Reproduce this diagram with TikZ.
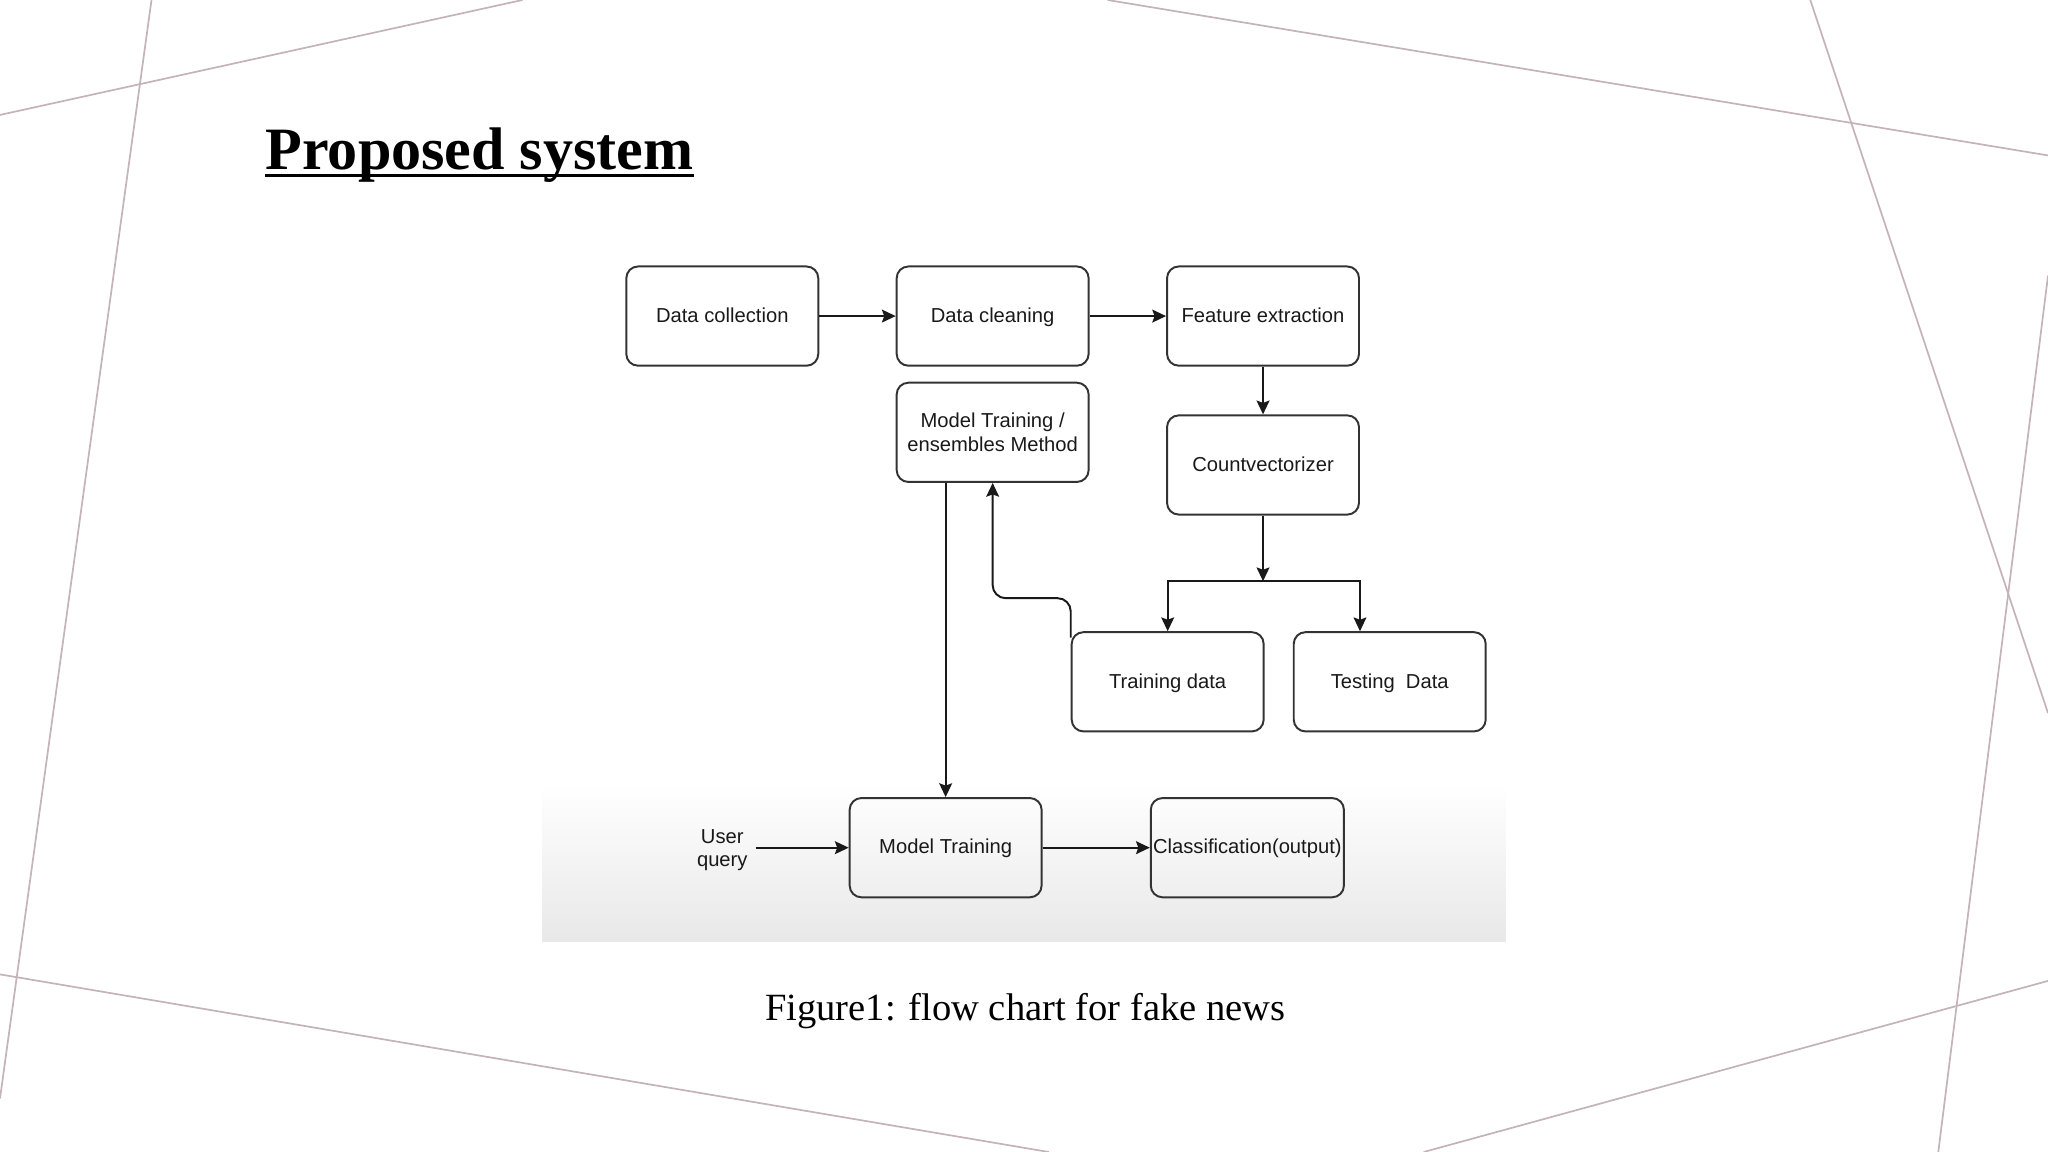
\documentclass[tikz,border=0pt]{standalone}
\usepackage{fontspec}
\setmainfont{Liberation Serif}
\newfontfamily\boxfont{Liberation Sans}
\usetikzlibrary{arrows.meta, calc}
\definecolor{decoline}{HTML}{C4B4B8}
\tikzset{
  block/.style={
    rectangle,
    draw=black!80,
    line width=0.85pt,
    rounded corners=0.18cm,
    align=center,
    inner sep=1pt,
    text=black!90,
    text height=0.75em,
    text depth=0.2em,
    font=\boxfont\fontsize{8.8}{10.2}\selectfont,
    minimum width=2.94cm,
    minimum height=1.52cm
  },
  arrow/.style={
    line width=0.85pt,
    draw=black!90,
    -{Stealth[length=6pt,width=5.6pt,inset=1pt]}
  },
  deco/.style={
    draw=decoline,
    line width=0.75pt
  }
}

\begin{document}
\begin{tikzpicture}[x=0.02cm, y=-0.02cm]
  \useasboundingbox (0,0) rectangle (1568,882);

  % background
  \shade[top color=white, bottom color=black!9] (415,600) rectangle (1153,721);
  \begin{scope}
    \clip (0,0) rectangle (1568,882);
    \draw[deco] (0,88) -- (400,0);
    \draw[deco] (116,0) -- (0,841);
    \draw[deco] (0,746) -- (803,882);
    \draw[deco] (848,0) -- (1568,119);
    \draw[deco] (1386,0) -- (1568,546);
    \draw[deco] (1568,211) -- (1484,882);
    \draw[deco] (1090,882) -- (1568,751);
  \end{scope}

  % title and caption
  \node[anchor=base west, inner sep=0, font=\fontsize{26.2}{30}\selectfont\bfseries] (title) at (203,130) {Proposed system};
  \draw[line width=1.4pt] ([yshift=-2.6pt]title.base west) -- ([yshift=-2.6pt]title.base east);
  \node[anchor=base, font=\fontsize{16.8}{20}\selectfont] (caption) at (785,781) {Figure1: flow chart for fake news};

  % boxes
  \node[block] (collect) at (553,242) {Data collection};
  \node[block] (clean) at (760,242) {Data cleaning};
  \node[block] (feat) at (967,242) {Feature extraction};
  \node[block, text height=, text depth=] (ens) at (760,331) {Model Training /\\ensembles Method};
  \node[block] (cvec) at (967,356) {Countvectorizer};
  \node[block] (train) at (894,522) {Training data};
  \node[block] (test) at (1064,522) {Testing\ \ Data};
  \node[block] (mtrain) at (724,649) {Model Training};
  \node[block] (classif) at (955,649) {Classification(output)};
  \node[align=center, text=black!90, font=\boxfont\fontsize{8.8}{10.2}\selectfont] (query) at (553,651) {User\\query};

  \coordinate (split) at (967,445);
  \coordinate (bend) at (760,458);

  % connectors
  \draw[arrow] (collect) -- (clean);
  \draw[arrow] (clean) -- (feat);
  \draw[arrow] (feat) -- (cvec);
  \draw[arrow] (cvec) -- (split);
  \draw[arrow] (split) -| (train.north);
  \draw[arrow] (split) -| (test.north -| feat.east);
  \draw[arrow, rounded corners=0.2cm] ([yshift=-0.1cm]train.north west) |- (bend) -- (ens.south);
  \draw[arrow] (ens.south -| mtrain.north) -- (mtrain.north);
  \draw[arrow] (query.east |- mtrain.west) -- (mtrain.west);
  \draw[arrow] (mtrain) -- (classif);
\end{tikzpicture}
\end{document}
